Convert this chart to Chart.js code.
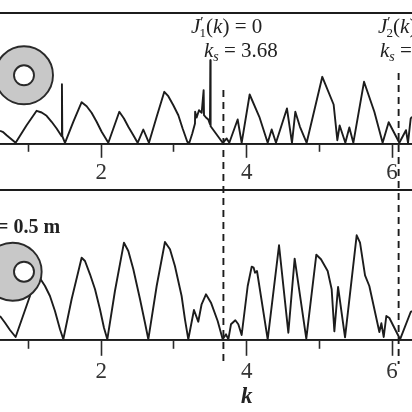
<!DOCTYPE html>
<html>
<head>
<meta charset="utf-8">
<script src="https://cdn.jsdelivr.net/npm/chart.js@4"></script>
<style>
html, body { margin: 0; padding: 0; background: #fff; }
canvas { display: block; }
</style>
</head>
<body>
<canvas id="chart" width="412" height="412"></canvas>
<script>
// values
let kTop = [0.607,0.652,0.698,0.822,0.973,1.111,1.180,1.248,1.317,1.386,1.455,1.459,1.464,1.501,1.615,1.730,1.799,1.867,1.936,2.005,2.097,2.248,2.312,2.372,2.441,2.500,2.578,2.656,2.762,2.867,2.922,2.991,3.060,3.119,3.183,3.211,3.252,3.289,3.291,3.312,3.344,3.381,3.408,3.413,3.440,3.472,3.495,3.500,3.504,3.670,3.725,3.761,3.876,3.931,4.041,4.174,4.289,4.344,4.403,4.554,4.623,4.669,4.733,4.825,5.040,5.196,5.247,5.279,5.357,5.412,5.467,5.614,5.756,5.870,5.953,6.100,6.191,6.219,6.256,6.274];
let ampTop = [0.127,0.113,0.083,0.007,0.183,0.327,0.310,0.277,0.217,0.150,0.073,0.593,0.073,0.007,0.217,0.413,0.373,0.307,0.217,0.117,0.007,0.317,0.250,0.167,0.083,0.007,0.140,0.007,0.267,0.517,0.473,0.383,0.283,0.150,0.017,0.007,0.100,0.200,0.317,0.260,0.333,0.307,0.533,0.283,0.260,0.240,0.193,0.833,0.173,0.007,0.050,0.007,0.240,0.007,0.490,0.267,0.007,0.140,0.007,0.350,0.007,0.317,0.167,0.007,0.667,0.390,0.033,0.180,0.007,0.160,0.007,0.617,0.317,0.007,0.213,0.007,0.133,0.007,0.250,0.267];

let kBottom = [0.607,0.676,0.744,0.822,1.019,1.088,1.166,1.226,1.294,1.363,1.432,1.478,1.592,1.730,1.776,1.845,1.914,1.982,2.037,2.083,2.188,2.312,2.372,2.441,2.533,2.601,2.647,2.762,2.876,2.945,3.013,3.105,3.151,3.197,3.275,3.334,3.380,3.440,3.509,3.601,3.670,3.716,3.748,3.784,3.844,3.885,3.931,4.014,4.069,4.096,4.115,4.142,4.289,4.445,4.573,4.660,4.820,4.958,5.022,5.114,5.169,5.206,5.257,5.353,5.513,5.559,5.628,5.687,5.825,5.853,5.885,5.921,5.963,6.110,6.256,6.274];
let ampBottom = [0.240,0.173,0.100,0.030,0.440,0.720,0.607,0.540,0.440,0.290,0.107,0.007,0.407,0.823,0.790,0.657,0.507,0.307,0.123,0.007,0.490,0.973,0.890,0.707,0.407,0.173,0.007,0.540,0.980,0.907,0.740,0.440,0.207,0.007,0.300,0.183,0.357,0.457,0.373,0.190,0.007,0.057,0.007,0.157,0.197,0.157,0.050,0.540,0.733,0.723,0.673,0.690,0.007,0.947,0.073,0.813,0.013,0.853,0.807,0.690,0.507,0.087,0.530,0.027,1.047,0.973,0.647,0.540,0.080,0.167,0.030,0.240,0.220,0.007,0.280,0.290];

let majorTicks = [2, 4, 6];
let minorTicks = [1, 3, 5];
let cutoffs = [3.68, 6.09];
let cutoffTop = [0.535, 0.705];
let cutoffEnd = [-2.225, -2.205];

const K_MIN = 0.607, K_MAX = 6.274;
const INK = "#1c1c1c";
const SERIF = "'Liberation Serif', serif";

function pts(xs, ys) {
    return xs.map((x, i) => ({ x: x, y: ys[i] }));
}

function line(xs, ys, panel, extra) {
    return Object.assign({
        data: pts(xs, ys),
        showLine: true,
        tension: 0,
        pointRadius: 0,
        borderColor: INK,
        borderWidth: 1.9,
        borderJoinStyle: "round",
        xAxisID: panel == "top" ? "xTop" : "xBottom",
        yAxisID: panel == "top" ? "yTop" : "yBottom",
        order: 5
    }, extra);
}

function disc(x, y, panel, radius, fill, order) {
    return {
        data: [{ x: x, y: y }],
        pointRadius: radius,
        pointBackgroundColor: fill,
        pointBorderColor: "#2a2a2a",
        pointBorderWidth: 1.9,
        xAxisID: panel == "top" ? "xTop" : "xBottom",
        yAxisID: panel == "top" ? "yTop" : "yBottom",
        order: order
    };
}

function xAxis(panel, ticks, len, labelled) {
    return {
        type: "linear",
        min: K_MIN,
        max: K_MAX,
        position: panel == "top" ? { yTop: 0 } : { yBottom: 0 },
        afterBuildTicks: axis => { axis.ticks = ticks.map(v => ({ value: v })); },
        border: { display: true, color: INK, width: 1.8 },
        grid: { drawOnChartArea: false, drawTicks: true, tickLength: len, tickColor: "#2a2a2a", tickWidth: 1.6 },
        ticks: {
            display: labelled,
            color: "#333",
            padding: 3,
            maxRotation: 0,
            autoSkip: false,
            font: { family: SERIF, size: 23 }
        }
    };
}

// annotation text: runs of [text, font, baseline shift, x nudge]
const ITALIC = "italic 21px " + SERIF;
const ROMAN = "21px " + SERIF;
const SMALL = "13px " + SERIF;
const SUB = "italic 14px " + SERIF;
const PRIME = "15px " + SERIF;
let notes = [
    { x: 191, y: 33, runs: [["J", ITALIC, 0], ["\u2032", PRIME, -6], ["1", SMALL, 4, -4], ["(", ROMAN, 0], ["k", ITALIC, 0], [") = 0", ROMAN, 0]] },
    { x: 204, y: 57, runs: [["k", ITALIC, 0], ["s", SUB, 4], [" = 3.68", ROMAN, 0]] },
    { x: 378, y: 33, runs: [["J", ITALIC, 0], ["\u2032", PRIME, -6], ["2", SMALL, 4, -4], ["(", ROMAN, 0], ["k", ITALIC, 0], [") = 0", ROMAN, 0]] },
    { x: 380, y: 57, runs: [["k", ITALIC, 0], ["s", SUB, 4], [" = 6.09", ROMAN, 0]] },
    { x: -3, y: 233, runs: [["= 0.5 m", "bold 20px " + SERIF, 0]] },
    { x: 241, y: 403, runs: [["k", "italic bold 23px " + SERIF, 0]] }
];

const notesPlugin = {
    id: "notes",
    afterDraw(c) {
        let ctx = c.ctx;
        ctx.save();
        ctx.fillStyle = "#222";
        ctx.textBaseline = "alphabetic";
        notes.forEach(n => {
            let x = n.x;
            n.runs.forEach(r => {
                ctx.font = r[1];
                ctx.fillText(r[0], x + (r[3] || 0), n.y + r[2]);
                x += ctx.measureText(r[0]).width + (r[3] || 0);
            });
        });
        ctx.restore();
    }
};

let datasets = [
    line(kTop, ampTop, "top"),
    line(kBottom, ampBottom, "bottom"),
    // panel frame
    line([K_MIN, K_MAX], [1.305, 1.305], "top"),
    line([K_MIN, K_MAX], [-0.465, -0.465], "top"),
    // k_s markers
    line([cutoffs[0], cutoffs[0]], [cutoffTop[0], cutoffEnd[0]], "top", { borderDash: [7, 5] }),
    line([cutoffs[1], cutoffs[1]], [cutoffTop[1], cutoffEnd[1]], "top", { borderDash: [7, 5] }),
    // ring sketches
    disc(0.937, 0.682, "top", 29, "#c8c8c8", 2),
    disc(0.937, 0.682, "top", 10, "#fff", 1),
    disc(0.781, 0.683, "bottom", 29, "#c8c8c8", 2),
    disc(0.937, 0.683, "bottom", 10, "#fff", 1)
];

new Chart(document.getElementById("chart"), {
    type: "scatter",
    data: { datasets: datasets },
    plugins: [notesPlugin],
    options: {
        responsive: false,
        animation: false,
        layout: { padding: 0, autoPadding: false },
        plugins: { legend: { display: false }, tooltip: { enabled: false } },
        scales: {
            xTop: xAxis("top", majorTicks, 13, true),
            xTopMinor: xAxis("top", minorTicks, 7, false),
            xBottom: xAxis("bottom", majorTicks, 15, true),
            xBottomMinor: xAxis("bottom", minorTicks, 8, false),
            yTop: { type: "linear", display: false, min: -2.685, max: 1.435 },
            yBottom: { type: "linear", display: false, min: -0.72, max: 3.4 }
        }
    }
});
</script>
</body>
</html>
